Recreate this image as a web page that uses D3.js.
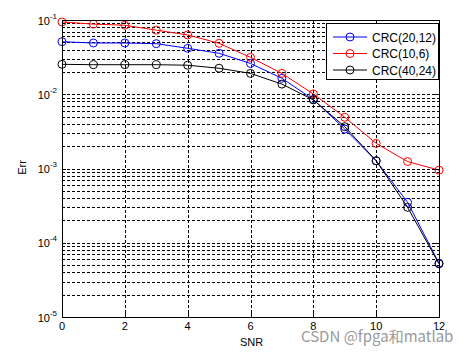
<!DOCTYPE html>
<html>
<head>
<meta charset="utf-8">
<script src="https://cdn.jsdelivr.net/npm/d3@7"></script>
<style>
  body { margin: 0; background: #fff; }
  svg { font-family: "Liberation Sans", Arial, sans-serif; }
</style>
</head>
<body>
<svg width="474" height="353"></svg>
<script>
const snr = [0, 1, 2, 3, 4, 5, 6, 7, 8, 9, 10, 11, 12];
const crc2012 = [0.051, 0.049, 0.049, 0.048, 0.0416, 0.0356, 0.026, 0.0164, 0.0085, 0.0034, 0.00127, 0.00035, 0.000053];
const crc106 = [0.094, 0.088, 0.085, 0.073, 0.063, 0.0485, 0.0314, 0.0191, 0.0101, 0.0049, 0.00218, 0.00124, 0.00095];
const crc4024 = [0.0253, 0.025, 0.025, 0.025, 0.0246, 0.0224, 0.0191, 0.0137, 0.0084, 0.00366, 0.00127, 0.0003, 0.000052];
const seriesNames = ["CRC(20,12)", "CRC(10,6)", "CRC(40,24)"];
const seriesColors = ["#0000ff", "#ff0000", "#000000"];
const xTicks = [0, 2, 4, 6, 8, 10, 12];
const yExps = [-5, -4, -3, -2, -1];

const svg = d3.select("svg");
const margin = { top: 20, right: 35, bottom: 36, left: 62 };
const width = 474 - margin.left - margin.right;
const height = 353 - margin.top - margin.bottom;

const g = svg.append("g").attr("transform", `translate(${margin.left},${margin.top})`);

const xScale = d3.scaleLinear().domain([0, 12]).range([0, width]);
const yScale = d3.scaleLog().domain([1e-5, 1e-1]).range([height, 0]);

// minor log values
let minorVals = [];
for (let e = -5; e < -1; e++) {
    for (let k = 2; k <= 9; k++) minorVals.push(k * Math.pow(10, e));
}

//grid
const grid = g.append("g").attr("class", "grid");
grid.selectAll(".gx")
    .data(xTicks.filter(d => d > 0 && d < 12))
    .enter().append("line")
    .attr("x1", d => Math.round(xScale(d)) + 0.5).attr("x2", d => Math.round(xScale(d)) + 0.5)
    .attr("y1", 0).attr("y2", height)
    .attr("stroke", "#000").attr("stroke-width", 1)
    .attr("stroke-dasharray", "3,2");
grid.selectAll(".gy")
    .data(minorVals.concat(yExps.slice(1, 4).map(e => Math.pow(10, e))))
    .enter().append("line")
    .attr("x1", 0).attr("x2", width)
    .attr("y1", d => Math.round(yScale(d)) + 0.5).attr("y2", d => Math.round(yScale(d)) + 0.5)
    .attr("stroke", "#000").attr("stroke-width", 1)
    .attr("stroke-dasharray", "3,2");

// series
const lineGen = d3.line().x((d, i) => xScale(snr[i])).y(d => yScale(d));
[crc2012, crc106, crc4024].forEach((vals, si) => {
    g.append("path")
        .datum(vals)
        .attr("d", lineGen)
        .attr("fill", "none")
        .attr("stroke", seriesColors[si])
        .attr("stroke-width", 1);
    g.selectAll(".m" + si)
        .data(vals)
        .enter().append("circle")
        .attr("cx", (d, i) => xScale(snr[i]))
        .attr("cy", d => yScale(d))
        .attr("r", 4)
        .attr("fill", "none")
        .attr("stroke", seriesColors[si])
        .attr("stroke-width", 1);
});

// box + ticks
g.append("rect")
    .attr("x", 0.5).attr("y", 0.5)
    .attr("width", width).attr("height", height)
    .attr("fill", "none").attr("stroke", "#000").attr("stroke-width", 1);

const ticks = g.append("g");
xTicks.forEach(t => {
    const x = Math.round(xScale(t)) + 0.5;
    ticks.append("line").attr("x1", x).attr("x2", x).attr("y1", height).attr("y2", height - 4).attr("stroke", "#000");
    ticks.append("line").attr("x1", x).attr("x2", x).attr("y1", 0).attr("y2", 4).attr("stroke", "#000");
    ticks.append("text")
        .attr("x", xScale(t)).attr("y", height + 13)
        .attr("text-anchor", "middle")
        .attr("font-size", 11)
        .text(t);
});
minorVals.concat(yExps.map(e => Math.pow(10, e))).forEach(v => {
    const y = Math.round(yScale(v)) + 0.5;
    const len = Number.isInteger(Math.log10(v)) ? 4 : 2;
    ticks.append("line").attr("x1", 0).attr("x2", len).attr("y1", y).attr("y2", y).attr("stroke", "#000");
    ticks.append("line").attr("x1", width).attr("x2", width - len).attr("y1", y).attr("y2", y).attr("stroke", "#000");
});
yExps.forEach(e => {
    const t = ticks.append("text")
        .attr("x", -5).attr("y", yScale(Math.pow(10, e)) + 4.5)
        .attr("text-anchor", "end")
        .attr("font-size", 11);
    t.append("tspan").text("10");
    t.append("tspan").attr("font-size", 8).attr("dy", -6).text(e);
});

// labels
g.append("text")
    .attr("x", width / 2 + 1).attr("y", height + 29)
    .attr("text-anchor", "middle")
    .attr("font-size", 11)
    .text("SNR");
g.append("text")
    .attr("transform", "rotate(-90)")
    .attr("x", -height / 2 + 1).attr("y", -36)
    .attr("text-anchor", "middle")
    .attr("font-size", 11)
    .text("Err");

// legend
const legend = g.append("g").attr("transform", `translate(${width - 113},3)`);
legend.append("rect")
    .attr("x", 0.5).attr("y", 0.5).attr("width", 112).attr("height", 56)
    .attr("fill", "#fff").attr("stroke", "#000");
seriesNames.forEach((name, i) => {
    const y = 14 + i * 16.5;
    legend.append("line").attr("x1", 7).attr("x2", 41).attr("y1", y).attr("y2", y)
        .attr("stroke", seriesColors[i]);
    legend.append("circle").attr("cx", 24).attr("cy", y).attr("r", 4)
        .attr("fill", "none").attr("stroke", seriesColors[i]);
    legend.append("text").attr("x", 46).attr("y", y + 4.5)
        .attr("font-size", 12).text(name);
});

// watermark
svg.append("text")
    .attr("x", 301).attr("y", 342)
    .attr("font-family", "'Noto Sans CJK SC', sans-serif")
    .attr("font-size", 15)
    .attr("fill", "#9a9a9a")
    .attr("stroke", "#fff").attr("stroke-width", 2.5)
    .attr("paint-order", "stroke")
    .text("CSDN @fpga和matlab");
</script>
</body>
</html>
